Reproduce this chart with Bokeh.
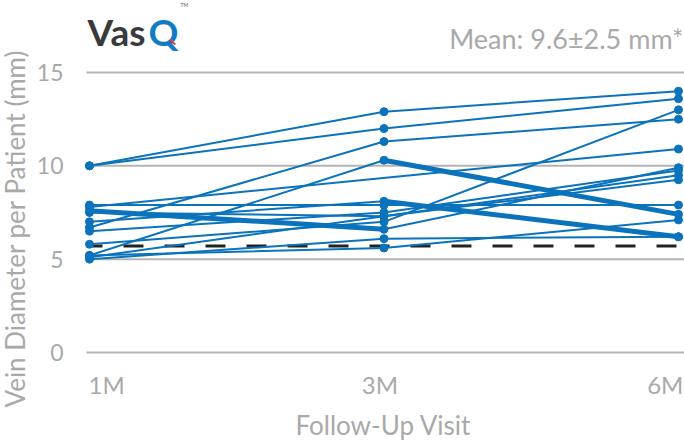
import numpy as np

from bokeh.plotting import figure
from bokeh.models import ColumnDataSource, Range1d
from bokeh.core.properties import value
from bokeh.embed import file_html
from bokeh.resources import INLINE

#- data
VISITS = ["1M", "3M", "6M"]
NAN = np.nan
# vein diameter (mm) per patient at 1M, 3M, 6M; nan = visit missing
DIAMETERS = [
    [10.0, 12.9, 14.0],
    [10.0, 12.0, 13.6],
    [6.7, 11.3, 12.5],
    [5.2, 10.3, 7.4],
    [7.8, NAN, 10.9],
    [7.6, 6.6, 9.9],
    [7.0, 8.1, 6.2],
    [7.9, 7.9, 7.9],
    [6.5, 7.5, 9.75],
    [5.8, 7.0, 13.0],
    [5.1, 7.3, 9.5],
    [5.0, 6.1, 6.2],
    [5.2, 5.6, 7.1],
    [7.5, 7.3, 9.25],
]
# highlighted segments: (patient row, from visit, to visit)
THICK = [(3, 1, 2), (5, 0, 1), (6, 1, 2)]
THRESHOLD = 5.7
Y_TICKS = [0, 5, 10, 15]
MEAN_TEXT = "Mean: 9.6\u00b12.5 mm*"
X_TITLE = "Follow-Up Visit"
Y_TITLE = "Vein Diameter per Patient (mm)"

#- style / layout (the frame fills the whole canvas, axes are drawn by hand)
BLUE = "#0b73bb"
GREY = "#a9a9a9"
FONT = value("Lato")
X_LABEL_POS = [0.058, 0.986, 1.955]   # visit label centres, in visit units
GRID_X0 = -0.0102                     # where the grid lines start
XR = (-0.3022, 2.0204)
YR = (-4.821, 18.857)

p = figure(width=684, height=442, output_backend="svg", toolbar_location=None,
           title=None, tools="", x_range=Range1d(*XR), y_range=Range1d(*YR),
           min_border=0)
p.outline_line_color = None
p.axis.visible = False
p.grid.visible = False

#- grid
p.segment(x0=[GRID_X0] * len(Y_TICKS), y0=Y_TICKS, x1=[XR[1]] * len(Y_TICKS), y1=Y_TICKS,
          line_color="#b4b4b4", line_width=2)

#- patient lines, skipping missed visits
xs, ys, px, py = [], [], [], []
for row in DIAMETERS:
    keep = [i for i, v in enumerate(row) if not np.isnan(v)]
    xs.append(keep)
    ys.append([row[i] for i in keep])
    px += keep
    py += [row[i] for i in keep]

p.line([0, len(VISITS) - 1], [THRESHOLD, THRESHOLD], line_color="#222222",
       line_width=3, line_dash="20 21", line_dash_offset=7)
p.multi_line(xs, ys, line_color=BLUE, line_width=2)

tx = [[a, b] for k, a, b in THICK]
ty = [[DIAMETERS[k][a], DIAMETERS[k][b]] for k, a, b in THICK]
p.multi_line(tx, ty, line_color=BLUE, line_width=5)

source = ColumnDataSource(data=dict(x=px, y=py))
p.scatter('x', 'y', source=source, size=8, fill_color=BLUE, line_color=BLUE)

#- tick labels and axis titles
p.text(x=[-0.0883] * len(Y_TICKS), y=Y_TICKS, text=[str(t) for t in Y_TICKS],
       text_font=FONT, text_font_size="23px", text_color=GREY,
       text_align="right", text_baseline="middle")
p.text(x=X_LABEL_POS, y=[-1.714] * len(VISITS), text=VISITS,
       text_font=FONT, text_font_size="24px", text_color=GREY,
       text_align="center", text_baseline="middle")
p.text(x=[0.998], y=[-3.857], text=[X_TITLE], text_font=FONT, text_font_size="26px",
       text_color=GREY, text_align="center", text_baseline="middle")
p.text(x=[-0.2513], y=[6.643], text=[Y_TITLE], angle=np.pi/2, text_font=FONT,
       text_font_size="26px", text_color=GREY, text_align="center",
       text_baseline="middle")

#- logo and mean annotation
p.text(x=[-0.0068], y=[17.196], text=["Vas"], text_font=FONT, text_font_size="37px",
       text_font_style="bold", text_color="#3a3a3a", text_baseline="middle")
p.text(x=[0.2003], y=[17.196], text=["Q"], text_font=FONT, text_font_size="37px",
       text_font_style="bold", text_color="#0f7dc6", text_baseline="middle")
p.text(x=[0.2818], y=[16.607], text=["\u2501"], angle=-0.7, text_font_size="12px",
       text_color="#e53935", text_align="center", text_baseline="middle")
p.text(x=[0.309], y=[18.80], text=["TM"], text_font=FONT, text_font_size="5px",
       text_color="#555555", text_baseline="top")
p.text(x=[2.017], y=[16.821], text=[MEAN_TEXT], text_font=FONT, text_font_size="27px",
       text_color=GREY, text_align="right", text_baseline="middle")

open("out.html", "w").write(file_html(p, INLINE))
